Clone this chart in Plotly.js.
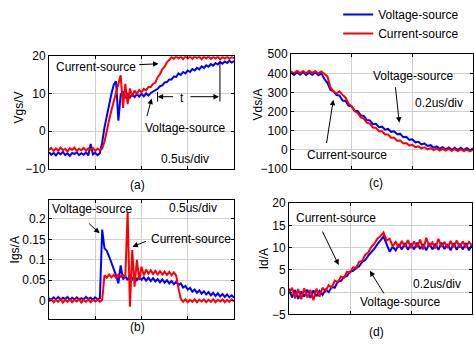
<!DOCTYPE html>
<html>
<head>
<meta charset="utf-8">
<script src="https://cdn.plot.ly/plotly-3.0.1.min.js"></script>
<style>
html,body{margin:0;padding:0;background:#fff;}
#chart{width:474px;height:347px;}
</style>
</head>
<body>
<div id="chart"></div>
<script>
// ---- time axes (us) ----
const tAB = [0,0.025,0.05,0.075,0.1,0.125,0.15,0.175,0.2,0.225,0.25,0.275,0.3,0.325,0.35,0.375,0.4,0.425,0.45,0.475,0.5,0.525,0.55,0.575,0.6,0.625,0.65,0.675,0.7,0.725,0.75,0.775,0.8,0.825,0.85,0.875,0.9,0.925,0.95,0.975,1,1.025,1.05,1.075,1.1,1.125,1.15,1.175,1.2,1.225,1.25,1.275,1.3,1.325,1.35,1.375,1.4,1.425,1.45,1.475,1.5,1.525,1.55,1.575,1.6,1.625,1.65,1.675,1.7,1.725,1.75,1.775,1.8,1.825,1.85,1.875,1.9,1.925,1.95,1.975,2];
const tCD = [0,0.01,0.02,0.03,0.04,0.05,0.06,0.07,0.08,0.09,0.1,0.11,0.12,0.13,0.14,0.15,0.16,0.17,0.18,0.19,0.2,0.21,0.22,0.23,0.24,0.25,0.26,0.27,0.28,0.29,0.3,0.31,0.32,0.33,0.34,0.35,0.36,0.37,0.38,0.39,0.4,0.41,0.42,0.43,0.44,0.45,0.46,0.47,0.48,0.49,0.5,0.51,0.52,0.53,0.54,0.55,0.56,0.57,0.58,0.59,0.6];

// ---- (a) Vgs (V) ----
const vgsVoltage = [-5.6,-6.3,-5.8,-6.5,-5.7,-6.2,-5.5,-6.4,-5.9,-6.6,-5.8,-6.1,-5.6,-6.4,-5.9,-6.3,-5.7,-6.5,-3.4,-6.2,-5.8,-6.4,-5.9,-3.0,1.0,4.2,7.3,10.0,12.4,13.3,2.8,9.8,10.6,8.8,9.9,9.0,9.8,9.1,9.9,9.2,10.0,9.3,10.1,9.5,10.2,10.6,11.0,11.3,12.0,12.2,13.0,13.1,13.8,13.8,14.6,14.5,15.4,15.0,15.8,15.4,16.2,15.8,16.6,16.2,16.9,16.5,17.3,16.9,17.6,17.2,17.9,17.5,18.2,17.8,18.5,18.0,18.6,18.2,18.8,18.3,18.7];
const vgsCurrent = [-5.0,-4.5,-5.3,-4.6,-5.2,-4.4,-5.1,-4.7,-5.4,-4.6,-5.0,-4.4,-5.3,-4.7,-5.1,-4.5,-5.2,-4.6,-5.0,-4.5,-5.3,-4.7,-5.1,-4.6,-2.8,0.4,3.0,5.6,8.1,10.6,12.8,14.9,6.2,12.6,7.2,11.4,9.2,10.8,10.0,11.0,10.4,11.3,10.9,11.8,11.8,12.6,13.0,14.4,15.2,16.5,17.2,18.4,19.0,19.8,19.3,20.0,19.4,19.9,19.2,20.0,19.4,19.9,19.3,20.0,19.5,19.9,19.2,19.9,19.4,20.0,19.3,19.8,19.4,19.9,19.2,19.8,19.4,19.9,19.3,19.8,19.5];

// ---- (b) Igs (A) ----
const igsVoltage = [0.006,0.002,0.008,0.003,0.009,0.002,0.007,0.004,0.009,0.002,0.007,0.003,0.008,0.002,0.006,0.003,0.009,0.004,0.007,0.002,0.008,0.003,0.006,0.174,0.128,0.122,0.108,0.094,0.080,0.062,0.042,0.086,0.052,0.060,0.050,0.064,0.052,0.060,0.050,0.058,0.051,0.057,0.049,0.056,0.048,0.055,0.047,0.053,0.045,0.052,0.044,0.050,0.042,0.048,0.040,0.046,0.038,0.042,0.032,0.036,0.027,0.031,0.022,0.027,0.019,0.025,0.017,0.023,0.015,0.021,0.013,0.019,0.011,0.018,0.010,0.016,0.009,0.015,0.008,0.013,0.007];
const igsCurrent = [-0.002,0.003,-0.004,0.002,-0.003,0.004,-0.005,0.002,-0.003,0.003,-0.004,0.002,-0.002,0.004,-0.005,0.002,-0.003,0.003,-0.004,0.002,-0.002,0.003,-0.003,0.002,0.062,0.056,0.064,0.057,0.063,0.056,0.064,0.058,0.062,0.058,0.217,-0.015,0.124,0.034,0.100,0.051,0.083,0.062,0.076,0.066,0.074,0.065,0.073,0.064,0.072,0.064,0.071,0.063,0.070,0.062,0.069,0.061,0.030,0.004,-0.003,0.003,-0.004,0.002,-0.003,0.003,-0.004,0.002,-0.002,0.003,-0.004,0.002,-0.003,0.003,-0.004,0.002,-0.002,0.003,-0.004,0.002,-0.003,0.003,-0.002];

// ---- (c) Vds ----
const vdsVoltage = [404,392,406,393,407,391,403,392,405,390,400,370,350,314,306,286,283,257,255,230,227,204,201,179,177,155,153,133,135,117,120,104,108,93,96,80,82,65,67,51,54,38,41,27,32,19,23,10,17,5,13,1,11,-1,10,-2,9,-3,8,-4,7];
const vdsCurrent = [410,400,413,401,412,400,413,402,411,399,410,399,384,326,306,294,305,287,272,241,226,201,192,168,162,141,136,116,114,96,96,79,79,62,62,46,47,32,34,21,25,13,17,6,12,1,8,-3,5,-5,4,-6,3,-7,2,-8,1,-8,0,-9,-1];

// ---- (d) Id (A) ----
const idVoltage = [0.8,-1.2,0.5,-1.5,0.2,-1.0,0.6,-1.3,0.4,-0.9,0.3,-0.6,0.6,0.0,1.2,1.0,2.4,2.5,3.4,3.6,4.6,4.8,5.4,5.8,6.8,7.2,8.2,8.9,9.8,10.8,11.6,12.5,10.8,9.1,10.2,9.4,10.8,9.6,11.0,9.5,10.9,9.6,11.1,9.7,10.8,9.4,11.0,9.6,10.9,9.5,11.1,9.7,10.8,9.4,11.0,9.5,10.9,9.6,11.0,9.4,10.7];
const idCurrent = [-0.3,1.0,-1.4,0.7,-1.6,0.9,-1.2,0.5,-1.8,0.8,-1.0,1.0,0.2,1.6,1.0,2.6,2.2,3.5,3.2,4.6,4.4,5.6,5.5,6.8,7.0,8.4,8.9,10.2,10.9,12.0,12.6,13.4,11.6,12.0,10.3,11.3,10.0,11.5,10.2,11.7,9.9,11.4,10.1,11.8,9.6,12.2,10.3,11.2,9.8,12.0,10.2,11.3,9.9,11.5,10.1,11.6,10.0,11.4,10.2,11.3,10.5];

const seriesNames = ['Voltage-source','Current-source'];
const seriesColors = ['#0000ff','#ff0000'];
const yTitles = ['Vgs/V','Igs/A','Vds/A','Id/A'];
const panelLabels = ['(a)','(b)','(c)','(d)'];

const FONT = 'Liberation Sans, Arial, sans-serif';
const lw = 2;

function tr(x, y, k, xa, ya, show) {
  return {x: x, y: y, xaxis: xa, yaxis: ya, type: 'scatter', mode: 'lines',
    name: seriesNames[k], showlegend: show, legendgroup: seriesNames[k],
    line: {color: seriesColors[k], width: lw}};
}

const data = [
  tr(tAB, vgsVoltage, 0, 'x', 'y', true),
  tr(tAB, vgsCurrent, 1, 'x', 'y', true),
  tr(tAB, igsVoltage, 0, 'x2', 'y2', false),
  tr(tAB, igsCurrent, 1, 'x2', 'y2', false),
  tr(tCD, vdsVoltage, 0, 'x3', 'y3', false),
  tr(tCD, vdsCurrent, 1, 'x3', 'y3', false),
  tr(tCD, idVoltage, 0, 'x4', 'y4', false),
  tr(tCD, idCurrent, 1, 'x4', 'y4', false)
];

function xax(domain, range, dtick, anchor) {
  return {domain: domain, range: range, dtick: dtick, tick0: 0, anchor: anchor,
    showticklabels: false, ticks: 'inside', ticklen: 3, tickcolor: '#000',
    showline: true, linecolor: '#000', linewidth: 1, mirror: 'ticks',
    showgrid: true, gridcolor: '#cfcfcf', gridwidth: 1, zeroline: false, fixedrange: true};
}
function yax(domain, range, dtick, anchor) {
  return {domain: domain, range: range, dtick: dtick, tick0: 0, anchor: anchor,
    ticks: 'inside', ticklen: 3, tickcolor: '#000',
    tickfont: {family: FONT, size: 12, color: '#000'},
    showline: true, linecolor: '#000', linewidth: 1, mirror: 'ticks',
    showgrid: true, gridcolor: '#cfcfcf', gridwidth: 1, zeroline: false, fixedrange: true};
}

function txt(text, x, y, xref, yref, angle) {
  return {text: text, x: x, y: y, xref: xref, yref: yref, showarrow: false,
    textangle: angle || 0,
    xanchor: 'center', yanchor: 'middle', font: {family: FONT, size: 12, color: '#000'}};
}
function arr(x, y, ax, ay, xref, yref) {
  return {text: '', x: x, y: y, xref: xref, yref: yref, ax: ax, ay: ay, showarrow: true,
    arrowhead: 2, arrowsize: 1.1, arrowwidth: 1, arrowcolor: '#000', standoff: 0, startstandoff: 0};
}

const annotations = [
  // y-axis titles
  txt(yTitles[0], 19/474, 1 - 104/347, 'paper', 'paper', -90),
  txt(yTitles[1], 15/474, 1 - 249/347, 'paper', 'paper', -90),
  txt(yTitles[2], 258/474, 1 - 101/347, 'paper', 'paper', -90),
  txt(yTitles[3], 264/474, 1 - 258/347, 'paper', 'paper', -90),
  // (a)
  txt('Current-source', 0.51, 17.1, 'x', 'y'),
  arr(1.185, 18.0, -21, 1, 'x', 'y'),
  txt('Voltage-source', 1.467, 0.8, 'x', 'y'),
  arr(1.109, 8.7, -5, 19, 'x', 'y'),
  txt('t', 1.435, 8.9, 'x', 'y'),
  arr(1.174, 9.2, 17, 0, 'x', 'y'),
  arr(1.837, 9.2, -30, 0, 'x', 'y'),
  txt('0.5us/div', 1.467, -7.4, 'x', 'y'),
  // (b)
  txt('Voltage-source', 0.467, 0.224, 'x2', 'y2'),
  arr(0.547, 0.165, -12, -11, 'x2', 'y2'),
  txt('Current-source', 1.533, 0.151, 'x2', 'y2'),
  arr(0.902, 0.132, 15, -6, 'x2', 'y2'),
  txt('0.5us/div', 1.554, 0.227, 'x2', 'y2'),
  // (c)
  txt('Voltage-source', 0.402, 388, 'x3', 'y3'),
  arr(0.357, 141, -4, -37, 'x3', 'y3'),
  txt('0.2us/div', 0.488, 243, 'x3', 'y3'),
  txt('Current-source', 0.185, -26, 'x3', 'y3'),
  arr(0.1395, 262, -7, 45, 'x3', 'y3'),
  // (d)
  txt('Current-source', 0.154, 16.6, 'x4', 'y4'),
  arr(0.163, 6.1, -17, -35, 'x4', 'y4'),
  txt('Voltage-source', 0.364, -2.1, 'x4', 'y4'),
  arr(0.265, 4.8, 15, 24, 'x4', 'y4'),
  txt('0.2us/div', 0.485, 1.8, 'x4', 'y4'),
  // panel labels
  txt(panelLabels[0], 137/474, 1 - 183/347, 'paper', 'paper'),
  txt(panelLabels[1], 137/474, 1 - 327/347, 'paper', 'paper'),
  txt(panelLabels[2], 376/474, 1 - 181/347, 'paper', 'paper'),
  txt(panelLabels[3], 376/474, 1 - 332/347, 'paper', 'paper')
];

const shapes = [
  {type: 'line', xref: 'x', yref: 'y', x0: 1.174, x1: 1.174, y0: 7.9, y1: 10.5, line: {color: '#000', width: 1}},
  {type: 'line', xref: 'x', yref: 'y', x0: 1.848, x1: 1.848, y0: 7.9, y1: 18.7, line: {color: '#000', width: 1}}
];

const layout = {
  width: 474, height: 347,
  margin: {l: 0, r: 0, t: 0, b: 0, pad: 0},
  paper_bgcolor: '#fff', plot_bgcolor: '#fff',
  font: {family: FONT, size: 12, color: '#000'},
  showlegend: true,
  legend: {x: 0.7135, y: 1.015, xanchor: 'left', yanchor: 'top', bgcolor: 'rgba(0,0,0,0)',
    font: {family: FONT, size: 12, color: '#000'}, tracegroupgap: 0, itemwidth: 30},
  xaxis: xax([49/474, 234/474], [0, 2], 0.5, 'y'),
  yaxis: yax([1 - 166/347, 1 - 52/347], [-10, 20], 10, 'x'),
  xaxis2: xax([49/474, 234/474], [0, 2], 0.5, 'y2'),
  yaxis2: yax([1 - 319/347, 1 - 198/347], [-0.046, 0.246], 0.05, 'x2'),
  xaxis3: xax([291/474, 473/474], [0, 0.6], 0.2, 'y3'),
  yaxis3: yax([1 - 166/347, 1 - 50/347], [-100, 500], 100, 'x3'),
  xaxis4: xax([289/474, 472/474], [0, 0.6], 0.2, 'y4'),
  yaxis4: yax([1 - 314/347, 1 - 201/347], [-5, 20], 5, 'x4'),
  annotations: annotations,
  shapes: shapes
};

Plotly.newPlot('chart', data, layout, {staticPlot: true, displayModeBar: false});
</script>
</body>
</html>
